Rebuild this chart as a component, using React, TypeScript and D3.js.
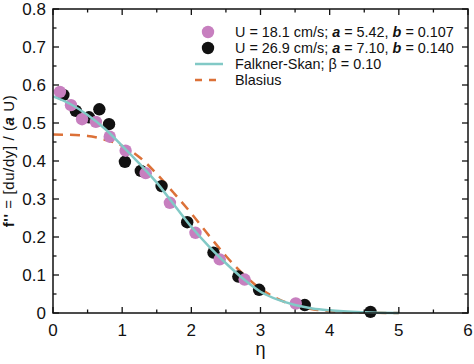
import React, { useEffect, useRef } from 'react';
import * as d3 from 'd3';

// measured points, [eta, f'']
const pinkEta = [0.1, 0.26, 0.42, 0.62, 0.82, 1.05, 1.34, 1.69, 2.06, 2.41, 2.77, 3.51];
const pinkVal = [0.582, 0.547, 0.51, 0.503, 0.464, 0.427, 0.368, 0.29, 0.211, 0.141, 0.088, 0.025];
const blackEta = [0.15, 0.33, 0.52, 0.67, 0.81, 1.04, 1.27, 1.57, 1.94, 2.32, 2.68, 2.98, 3.64, 4.59];
const blackVal = [0.574, 0.532, 0.515, 0.536, 0.497, 0.398, 0.374, 0.334, 0.239, 0.159, 0.096, 0.061, 0.021, 0.003];

// curves
const fsEta = [0, 0.25, 0.5, 0.75, 1, 1.25, 1.5, 1.75, 2, 2.25, 2.5, 2.75, 3, 3.25, 3.5, 3.75, 4, 4.5, 5];
const fsVal = [0.57, 0.55, 0.521, 0.485, 0.44, 0.393, 0.343, 0.285, 0.227, 0.176, 0.131, 0.09, 0.056, 0.035, 0.021, 0.012, 0.007, 0.002, 0];
const blEta = [0, 0.5, 0.75, 1, 1.25, 1.5, 1.75, 2, 2.25, 2.5, 2.75, 3, 3.25, 3.5, 3.75, 4, 4.5, 5];
const blVal = [0.47, 0.466, 0.456, 0.44, 0.41, 0.366, 0.315, 0.262, 0.205, 0.15, 0.102, 0.064, 0.037, 0.02, 0.01, 0.005, 0.001, 0];

const xTicks = [0, 1, 2, 3, 4, 5, 6];
const yTicks = [0, 0.1, 0.2, 0.3, 0.4, 0.5, 0.6, 0.7, 0.8];

const PINK = '#c77fbf';
const TEAL = '#82c9c6';
const ORANGE = '#dc7138';

const W = 474;
const H = 364;
const m = { left: 53, right: 6, top: 9, bottom: 51 };

const Chart = () => {
  const ref = useRef<SVGSVGElement>(null);

  useEffect(() => {
    const svg = d3.select(ref.current);
    svg.selectAll('*').remove();

    const x = d3.scaleLinear().domain([0, 6]).range([m.left, W - m.right]);
    const y = d3.scaleLinear().domain([0, 0.8]).range([H - m.bottom, m.top]);
    const font = 'Arial, "Liberation Sans", sans-serif';

    const line = d3.line<[number, number]>()
      .x(d => x(d[0]))
      .y(d => y(d[1]))
      .curve(d3.curveMonotoneX);

    const g = svg.append('g');

    // Blasius (dashed)
    g.append('path')
      .datum(blEta.map((e, i) => [e, blVal[i]] as [number, number]))
      .attr('fill', 'none')
      .attr('stroke', ORANGE)
      .attr('stroke-width', 2.5)
      .attr('stroke-dasharray', '10 7')
      .attr('d', line);

    // points
    blackEta.forEach((e, i) => {
      g.append('circle').attr('cx', x(e)).attr('cy', y(blackVal[i])).attr('r', 6.2).attr('fill', '#111');
    });
    pinkEta.forEach((e, i) => {
      g.append('circle').attr('cx', x(e)).attr('cy', y(pinkVal[i])).attr('r', 6.2).attr('fill', PINK);
    });

    // Falkner-Skan
    g.append('path')
      .datum(fsEta.map((e, i) => [e, fsVal[i]] as [number, number]))
      .attr('fill', 'none')
      .attr('stroke', TEAL)
      .attr('stroke-width', 2.5)
      .attr('d', line);

    // frame
    svg.append('rect')
      .attr('x', m.left).attr('y', m.top)
      .attr('width', W - m.left - m.right).attr('height', H - m.top - m.bottom)
      .attr('fill', 'none').attr('stroke', '#111').attr('stroke-width', 1.5);

    // inward ticks on all four sides
    const isMajorX = (d: number) => Math.abs(d - Math.round(d)) < 1e-6;
    const isMajorY = (d: number) => Math.abs(d * 10 - Math.round(d * 10)) < 1e-6;
    const xt = d3.range(0, 6.01, 0.5);
    const yt = d3.range(0, 0.801, 0.05);
    const tk = svg.append('g').attr('stroke', '#111').attr('stroke-width', 1.3);
    xt.forEach(v => {
      const len = isMajorX(v) ? 6 : 3.5;
      tk.append('line').attr('x1', x(v)).attr('x2', x(v)).attr('y1', y(0)).attr('y2', y(0) - len);
      tk.append('line').attr('x1', x(v)).attr('x2', x(v)).attr('y1', y(0.8)).attr('y2', y(0.8) + len);
    });
    yt.forEach(v => {
      const len = isMajorY(v) ? 6 : 3.5;
      tk.append('line').attr('x1', x(0)).attr('x2', x(0) + len).attr('y1', y(v)).attr('y2', y(v));
      tk.append('line').attr('x1', x(6)).attr('x2', x(6) - len).attr('y1', y(v)).attr('y2', y(v));
    });

    // tick labels
    xTicks.forEach(v => {
      svg.append('text').attr('x', x(v)).attr('y', H - m.bottom + 23)
        .attr('text-anchor', 'middle').attr('font-family', font).attr('font-size', 17)
        .attr('fill', '#111').text(v);
    });
    yTicks.forEach(v => {
      svg.append('text').attr('x', m.left - 7).attr('y', y(v) + 6)
        .attr('text-anchor', 'end').attr('font-family', font).attr('font-size', 17)
        .attr('fill', '#111').text(v === 0 ? '0' : d3.format('.1f')(v));
    });

    // axis titles
    svg.append('text').attr('x', x(3)).attr('y', H - 9)
      .attr('text-anchor', 'middle').attr('font-family', font).attr('font-size', 18)
      .attr('fill', '#111').text('η');

    const yl = svg.append('text')
      .attr('transform', `translate(14,161) rotate(-90)`)
      .attr('text-anchor', 'middle').attr('font-family', font).attr('font-size', 15)
      .attr('letter-spacing', 0.6)
      .attr('fill', '#111');
    yl.append('tspan').attr('font-weight', 'bold').text("f''");
    yl.append('tspan').text(' = [du/dy] / (');
    yl.append('tspan').attr('font-weight', 'bold').attr('font-style', 'italic').text('a');
    yl.append('tspan').text(' U)');

    // legend
    const lx = 235;
    const rows = [32, 48, 64, 80];
    const lt = (row: number) => svg.append('text').attr('x', lx).attr('y', rows[row] + 5)
      .attr('font-family', font).attr('font-size', 14.4).attr('fill', '#111');

    svg.append('circle').attr('cx', 208).attr('cy', rows[0]).attr('r', 6.2).attr('fill', PINK);
    svg.append('circle').attr('cx', 208).attr('cy', rows[1]).attr('r', 6.2).attr('fill', '#111');
    svg.append('line').attr('x1', 195).attr('x2', 223).attr('y1', rows[2]).attr('y2', rows[2])
      .attr('stroke', TEAL).attr('stroke-width', 2.5);
    svg.append('line').attr('x1', 195).attr('x2', 223).attr('y1', rows[3]).attr('y2', rows[3])
      .attr('stroke', ORANGE).attr('stroke-width', 2.5).attr('stroke-dasharray', '7 7');

    const t0 = lt(0);
    t0.append('tspan').text('U = 18.1 cm/s; ');
    t0.append('tspan').attr('font-weight', 'bold').attr('font-style', 'italic').text('a');
    t0.append('tspan').text(' = 5.42, ');
    t0.append('tspan').attr('font-weight', 'bold').attr('font-style', 'italic').text('b');
    t0.append('tspan').text(' = 0.107');
    const t1 = lt(1);
    t1.append('tspan').text('U = 26.9 cm/s; ');
    t1.append('tspan').attr('font-weight', 'bold').attr('font-style', 'italic').text('a');
    t1.append('tspan').text(' = 7.10, ');
    t1.append('tspan').attr('font-weight', 'bold').attr('font-style', 'italic').text('b');
    t1.append('tspan').text(' = 0.140');
    lt(2).text('Falkner-Skan; β = 0.10');
    lt(3).text('Blasius');
  }, []);

  return (
    <svg ref={ref} width={W} height={H}
      style={{ display: 'block', position: 'absolute', left: 0, top: 0, background: '#fff' }} />
  );
};

export default function App() {
  return <Chart />;
}
